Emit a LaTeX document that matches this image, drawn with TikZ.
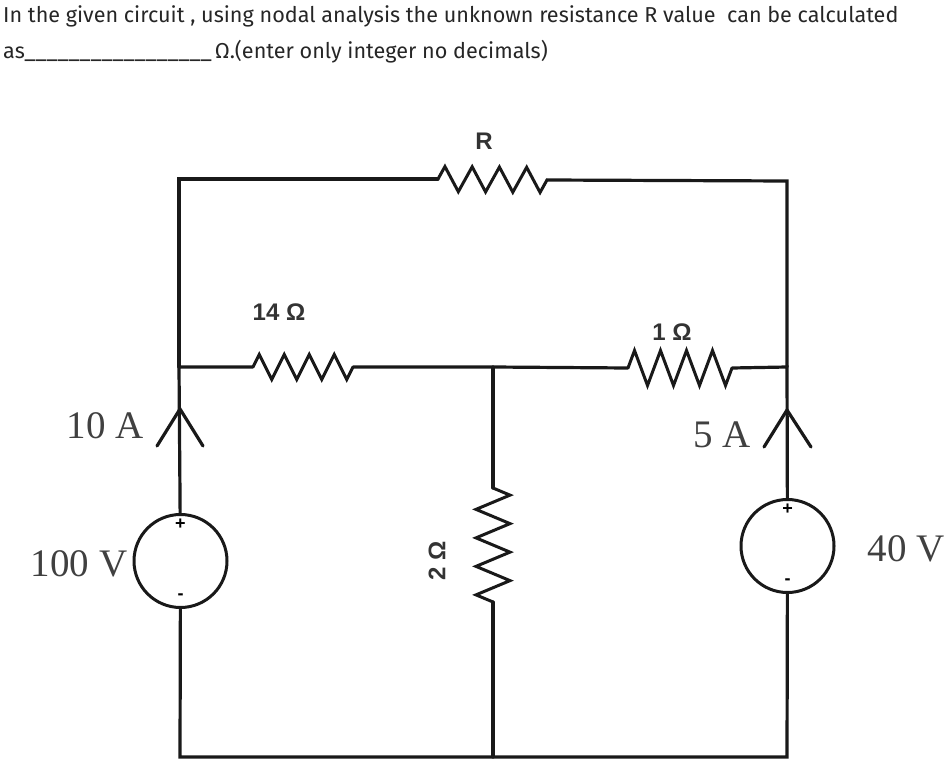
\documentclass[tikz,border=0pt]{standalone}
\usepackage{fontspec}
\setmainfont{Fira Sans}
\newfontfamily\labelfont{Liberation Serif}
\newfontfamily\valfont{Liberation Sans}
\usetikzlibrary{positioning, decorations.pathmorphing}

\begin{document}
\begin{tikzpicture}[x=1pt, y=-1pt]
            % styles
            \tikzstyle{wire} = [line width=3.2pt, line cap=round, draw=black!90]
            \tikzstyle{res} = [line width=3pt, draw=black!90, decorate, decoration={zigzag, segment length=26pt, amplitude=17.5pt}]
            \tikzstyle{source} = [circle, draw=black!90, line width=3pt, minimum size=93pt, inner sep=0pt]
            \tikzstyle{question} = [anchor=base west, inner sep=0pt, font=\fontsize{21.6}{24}\selectfont, text=black!85]
            \tikzstyle{val} = [font=\valfont\bfseries\fontsize{24}{26}\selectfont, text=black!80, inner sep=0pt]
            \tikzstyle{big} = [font=\labelfont\fontsize{39}{44}\selectfont, text=black!75, inner sep=0pt]
            \tikzstyle{sign} = [font=\valfont\bfseries\fontsize{18}{18}\selectfont, inner sep=0pt]

            \useasboundingbox (0,0) rectangle (952,767);

            % question
            \node (line1) [question] at (3,23) {In the given circuit , using nodal analysis the unknown resistance R value\ \ can be calculated};
            \node (line2) [question] at (3,59) {as\_\_\_\_\_\_\_\_\_\_\_\_\_\_\_\_\_\kern3ptΩ.(enter only integer no decimals)};

            % corners
            \coordinate (tl) at (179,179);
            \coordinate (tr) at (787,181);
            \coordinate (ml) at (179,367);
            \coordinate (mm) at (493,367);
            \coordinate (mr) at (787,367);
            \coordinate (bl) at (180,757);
            \coordinate (bm) at (493,757);
            \coordinate (br) at (787,757);

            % resistor ends
            \coordinate (ra) at (438,179);
            \coordinate (rb) at (547,180);
            \coordinate (fa) at (253,367);
            \coordinate (fb) at (353,367);
            \coordinate (oa) at (628,368);
            \coordinate (ob) at (732,368);
            \coordinate (ta) at (493,488);
            \coordinate (tb) at (493,602);

            % sources
            \node (vleft) [source] at (180.5,561) {};
            \node (vright) [source] at (787.5,546) {};
            \node (vlp) [sign] at (180.5,524) {+};
            \node (vlm) [sign] at (180.5,597) {-};
            \node (vrp) [sign] at (787.5,509) {+};
            \node (vrm) [sign] at (787.5,582) {-};

            % wires
            \draw [wire] (ml) -- (tl) -- (ra);
            \draw [wire] (rb) -- (tr) -- (mr);
            \draw [wire] (vleft) -- (ml) -- (fa);
            \draw [wire] (fb) -- (mm) -- (oa);
            \draw [wire] (ob) -- (mr) -- (vright);
            \draw [wire] (mm) -- (ta);
            \draw [wire] (tb) -- (bm);
            \draw [wire] (vleft) -- (bl) -- (br) -- (vright);

            % resistors
            \draw [res, decoration={segment length=27.25pt, amplitude=12.5pt}] (ra) -- (rb);
            \draw [res, decoration={segment length=25pt, amplitude=12.5pt}] (fa) -- (fb);
            \draw [res] (oa) -- (ob);
            \draw [res, decoration={segment length=28.5pt, amplitude=17pt}] (ta) -- (tb);

            % current arrows
            \coordinate (al) at (157,446);
            \coordinate (at) at (180,409);
            \coordinate (ar) at (203,446);
            \coordinate (bbl) at (764,447);
            \coordinate (bt) at (787,410);
            \coordinate (bbr) at (811,447);
            \draw [wire] (al) -- (at) -- (ar);
            \draw [wire] (bbl) -- (bt) -- (bbr);

            % labels
            \node (rlabel) [val] at (484,141) {R};
            \node (flabel) [val] at (279,312) {14 Ω};
            \node (olabel) [val] at (672,332) {1 Ω};
            \node (tlabel) [val, rotate=90] at (437,561) {2 Ω};
            \node (ileft) [big] at (105,426) {10 A};
            \node (iright) [big] at (722,435) {5 A};
            \node (vltext) [big] at (79,564) {100 V};
            \node (vrtext) [big] at (906,549) {40 V};
        \end{tikzpicture}
\end{document}
